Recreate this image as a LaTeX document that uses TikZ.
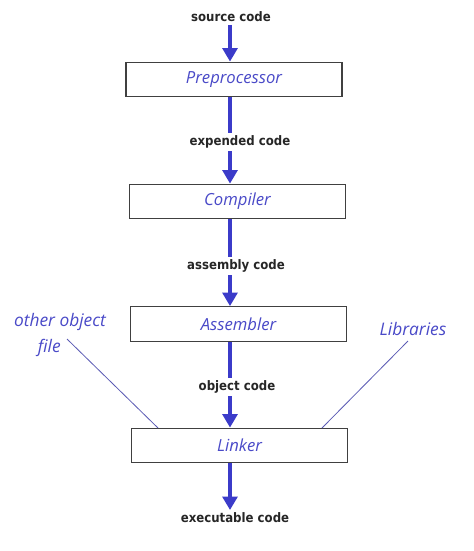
\documentclass[tikz,border=0pt]{standalone}
\usepackage{fontspec}
\setmainfont{DejaVu Sans}
\newfontfamily\labfont{DejaVu Sans Condensed}
\newfontfamily\handfont{Open Sans}
\usetikzlibrary{arrows.meta}
\definecolor{arrblue}{HTML}{3B3BC9}
\definecolor{txtblue}{HTML}{4A4AC8}
\definecolor{lineblue}{HTML}{5A5AB4}
\tikzset{
  stage/.style={draw=black!75, line width=0.9pt, minimum width=162pt, minimum height=26pt, inner sep=0pt, font=\handfont\itshape\fontsize{12.5}{14}\selectfont, text=txtblue},
  codelabel/.style={font=\labfont\bfseries\fontsize{9.8}{11}\selectfont, text=black!85, fill=white, inner sep=2pt},
  sidelabel/.style={font=\handfont\itshape\fontsize{13}{19}\selectfont, text=txtblue, align=center},
  arr/.style={draw=arrblue, line width=3pt, -{Triangle[width=11pt,length=10pt]}},
  seg/.style={draw=arrblue, line width=3pt},
  thin/.style={draw=lineblue, line width=0.6pt}
}
\begin{document}
\begin{tikzpicture}[x=0.75pt,y=-0.75pt]
\useasboundingbox[fill=white] (0,0) rectangle (474,551);
\coordinate (ax) at (230,0);
\node[codelabel] (src) at (231,17) {source code};
\node[stage] (pre) at (234,79.5) {Preprocessor};
\node[codelabel] (l1) at (240,142) {expended code};
\node[stage] (comp) at (237.5,201.5) {Compiler};
\node[codelabel] (l2) at (236,266) {assembly code};
\node[stage] (asm) at (238.5,324) {Assembler};
\node[codelabel] (l3) at (237,387) {object code};
\node[stage] (lnk) at (239.5,445.5) {Linker};
\node[codelabel] (exe) at (235,518) {executable code};
\node[sidelabel] (other) at (60,335) {other object\\file\hspace*{16pt}};
\node[sidelabel] (lib) at (413,329) {Libraries};
\coordinate (oa) at (67,339);
\coordinate (ob) at (158,428);
\coordinate (la) at (408,341);
\coordinate (lb) at (322,428);

\draw[arr] (src.south -| ax) -- (pre.north -| ax);
\draw[seg] (pre.south -| ax) -- (l1.north -| ax);
\draw[arr] (l1.south -| ax) -- (comp.north -| ax);
\draw[seg] (comp.south -| ax) -- (l2.north -| ax);
\draw[arr] (l2.south -| ax) -- (asm.north -| ax);
\draw[seg] (asm.south -| ax) -- (l3.north -| ax);
\draw[arr] (l3.south -| ax) -- (lnk.north -| ax);
\draw[arr] (lnk.south -| ax) -- (exe.north -| ax);
\draw[thin] (oa) -- (ob);
\draw[thin] (la) -- (lb);
\end{tikzpicture}
\end{document}
